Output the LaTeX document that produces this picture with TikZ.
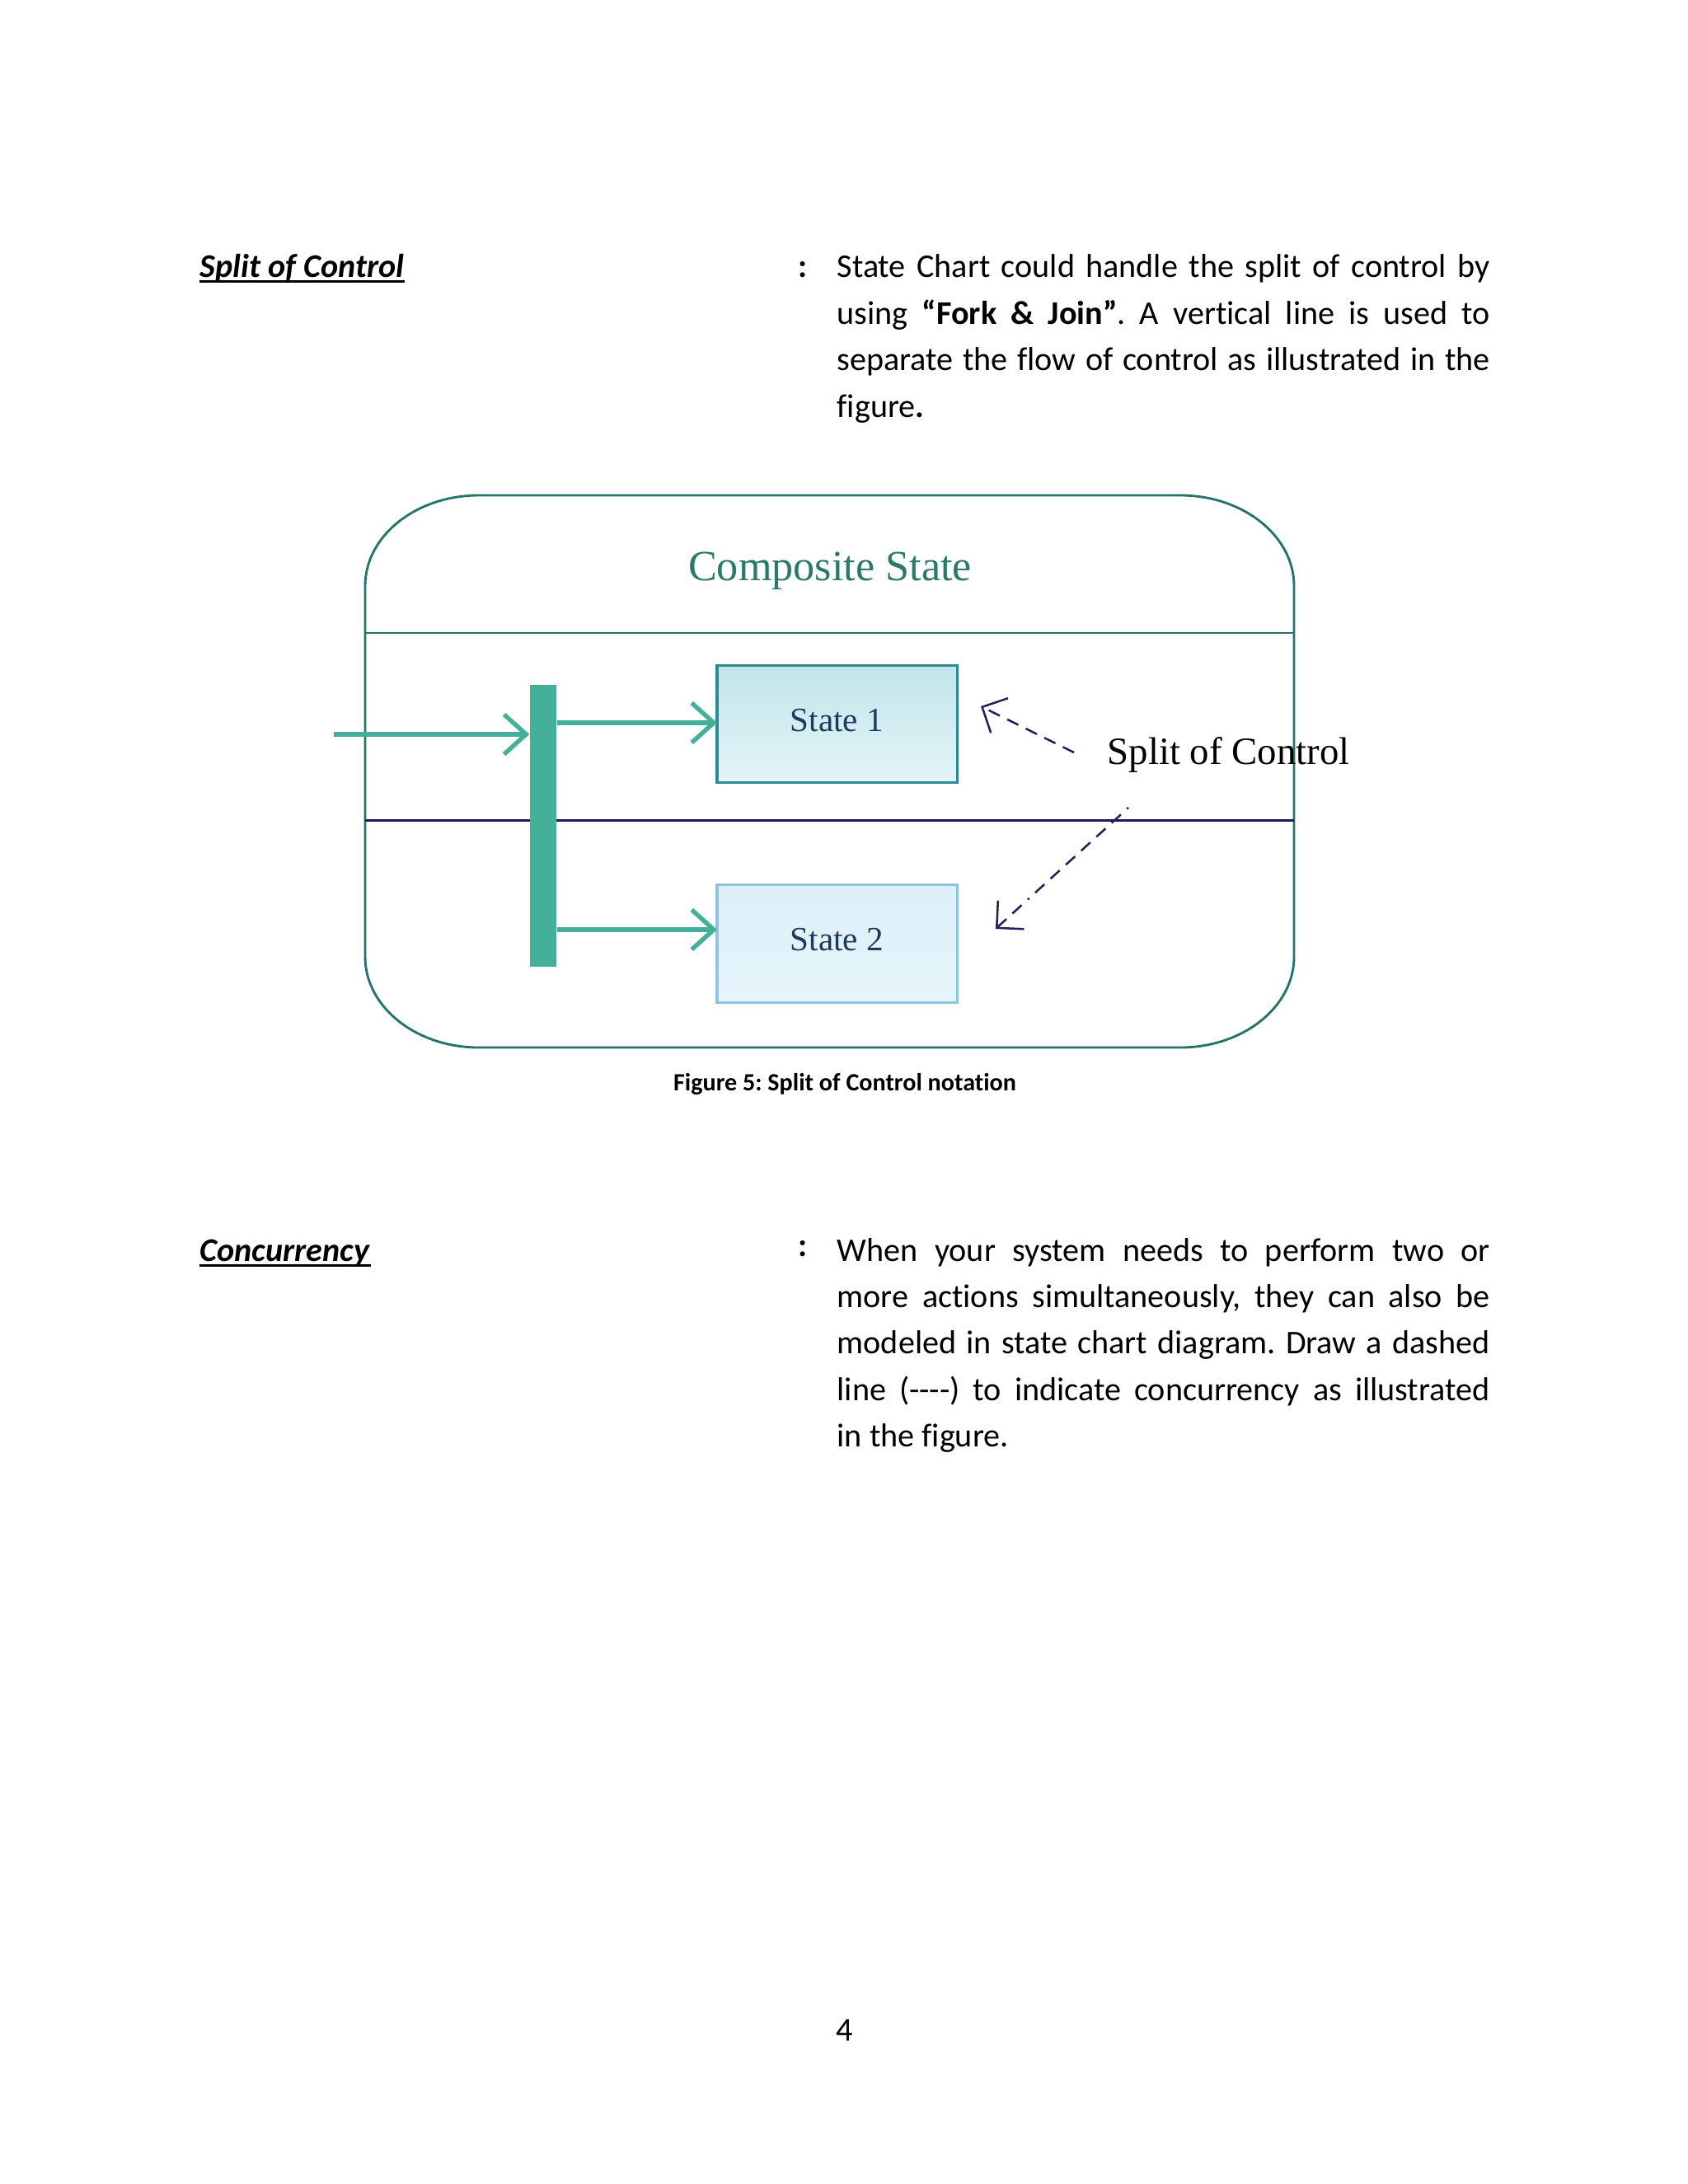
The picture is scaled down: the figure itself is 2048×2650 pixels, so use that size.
\documentclass[tikz,border=0pt]{standalone}
\usepackage{fontspec}
\setmainfont{Carlito}[Ligatures=NoCommon]
\newfontfamily\timesf{Liberation Serif}
\usetikzlibrary{arrows.meta}
\frenchspacing
\definecolor{tealb}{HTML}{23756B}
\definecolor{barc}{HTML}{45B09A}
\definecolor{titlec}{HTML}{2A7A6A}
\definecolor{navyl}{HTML}{1C1C5C}
\definecolor{dasharr}{HTML}{221F5A}
\definecolor{stxt}{HTML}{1F3A5F}
\definecolor{sone}{HTML}{2A8C93}
\definecolor{sonetop}{HTML}{C2E5EA}
\definecolor{sonebot}{HTML}{E3F4F8}
\definecolor{stwo}{HTML}{8DC5DF}
\definecolor{stwotop}{HTML}{DCEFF8}
\definecolor{stwobot}{HTML}{E6F5FB}
\begin{document}
\begin{tikzpicture}[x=0.29883pt,y=-0.29883pt,
  txt/.style={anchor=base west, inner sep=0pt, font=\fontsize{12}{14}\selectfont},
  garrow/.style={draw=barc, line width=1.6pt, -{Straight Barb[length=8pt,width=14.4pt,line width=1.6pt]}},
  darrow/.style={draw=dasharr, line width=0.75pt, dash pattern=on 4.5pt off 3pt, -{Straight Barb[length=7pt,width=14pt,line width=0.75pt]}},
  statebox/.style={rectangle, inner sep=0pt, line width=0.9pt, minimum width=86.96pt},
  stlabel/.style={anchor=base, inner sep=0pt, text=stxt, font=\timesf\fontsize{12.3}{14}\selectfont}
]
\fill[white] (0,0) rectangle (2048,2650);
\path[use as bounding box] (0,0) rectangle (2048,2650);

% ---------- Split of Control paragraph ----------
\node[txt] (h1) at (242,336) {\textbf{\textit{Split of Control}}};
\draw[line width=0.8pt] ([yshift=-1.6pt]h1.base west) -- ([yshift=-1.6pt]h1.base east);
\node[txt] (c1) at (968,336) {\textbf{:}};
\node[txt] (p1a) at (1015,336) {\makebox[236.7pt][s]{State Chart could handle the split of control by}};
\node[txt] (p1b) at (1015,393) {\makebox[236.7pt][s]{using \textbf{“Fork \& Join”}. A vertical line is used to}};
\node[txt] (p1c) at (1015,449) {\makebox[236.7pt][s]{separate the flow of control as illustrated in the}};
\node[txt] (p1d) at (1015,506) {figure\textbf{.}};

% ---------- Figure ----------
\draw[tealb, line width=0.85pt]
  (581,601) -- (1432,601) arc[start angle=-90, end angle=0, x radius=138, y radius=110]
  -- (1570,1161) arc[start angle=0, end angle=90, x radius=138, y radius=110]
  -- (581,1271) arc[start angle=90, end angle=180, x radius=138, y radius=110]
  -- (443,711) arc[start angle=180, end angle=270, x radius=138, y radius=110] -- cycle;
\draw[tealb, line width=0.85pt] (443,768) -- (1570,768);
\draw[navyl, line width=0.9pt] (443,995) -- (1570,995);

\node[anchor=base, inner sep=0pt, text=titlec, font=\timesf\fontsize{15.6}{18}\selectfont] (cs) at (1007,704) {Composite State};

\node[rectangle, inner sep=0pt, fill=barc, minimum width=9.56pt, minimum height=102.2pt] (bar) at (659,1002) {};

\node[statebox, draw=sone, top color=sonetop, bottom color=sonebot, minimum height=42.43pt] (s1) at (1015.5,878) {};
\node[stlabel] (s1t) at (1015.5,887) {State 1};
\node[statebox, draw=stwo, top color=stwotop, bottom color=stwobot, minimum height=42.73pt] (s2) at (1015.5,1144.5) {};
\node[stlabel] (s2t) at (1015.5,1153) {State 2};

\coordinate (in) at (405,891);
\coordinate (s1in) at (870,877);
\coordinate (s2in) at (870,1128);
\draw[garrow] (in) -- (in -| bar.west);
\draw[garrow] (bar.east |- s1in) -- (s1in);
\draw[garrow] (bar.east |- s2in) -- (s2in);

\node[anchor=base west, inner sep=0pt, font=\timesf\fontsize{14}{16}\selectfont] (soc) at (1343,927) {Split of Control};
\coordinate (t1tail) at (1303,913);
\coordinate (t1tip) at (1190,857);
\coordinate (t2tail) at (1369,980);
\coordinate (t2tip) at (1208,1127);
\draw[darrow] (t1tail) -- (t1tip);
\draw[darrow, dash pattern=on 0.7pt off 3pt on 4.5pt off 3pt on 4.5pt off 3pt on 4.5pt off 3pt on 4.5pt off 3pt on 4.5pt off 3pt on 4.5pt off 3pt] (t2tail) -- (t2tip);

\node[anchor=base, inner sep=0pt, font=\bfseries\fontsize{9}{11}\selectfont] (cap) at (1025,1323) {Figure 5: Split of Control notation};

% ---------- Concurrency paragraph ----------
\node[txt] (h2) at (242,1530) {\textbf{\textit{Concurrency}}};
\draw[line width=0.8pt] ([yshift=-1.6pt]h2.base west) -- ([yshift=-1.6pt]h2.base east);
\node[txt] (c2) at (968,1524) {\textbf{:}};
\node[txt] (p2a) at (1015,1530) {\makebox[236.7pt][s]{When your system needs to perform two or}};
\node[txt] (p2b) at (1015,1586) {\makebox[236.7pt][s]{more actions simultaneously, they can also be}};
\node[txt] (p2c) at (1015,1642) {\makebox[236.7pt][s]{modeled in state chart diagram. Draw a dashed}};
\node[txt] (p2d) at (1015,1699) {\makebox[236.7pt][s]{line (-{}-{}-{}-) to indicate concurrency as illustrated}};
\node[txt] (p2e) at (1015,1755) {in the figure.};

\node[anchor=base, inner sep=0pt, font=\fontsize{12}{14}\selectfont] (pg) at (1025,2476) {4};
\end{tikzpicture}
\end{document}
